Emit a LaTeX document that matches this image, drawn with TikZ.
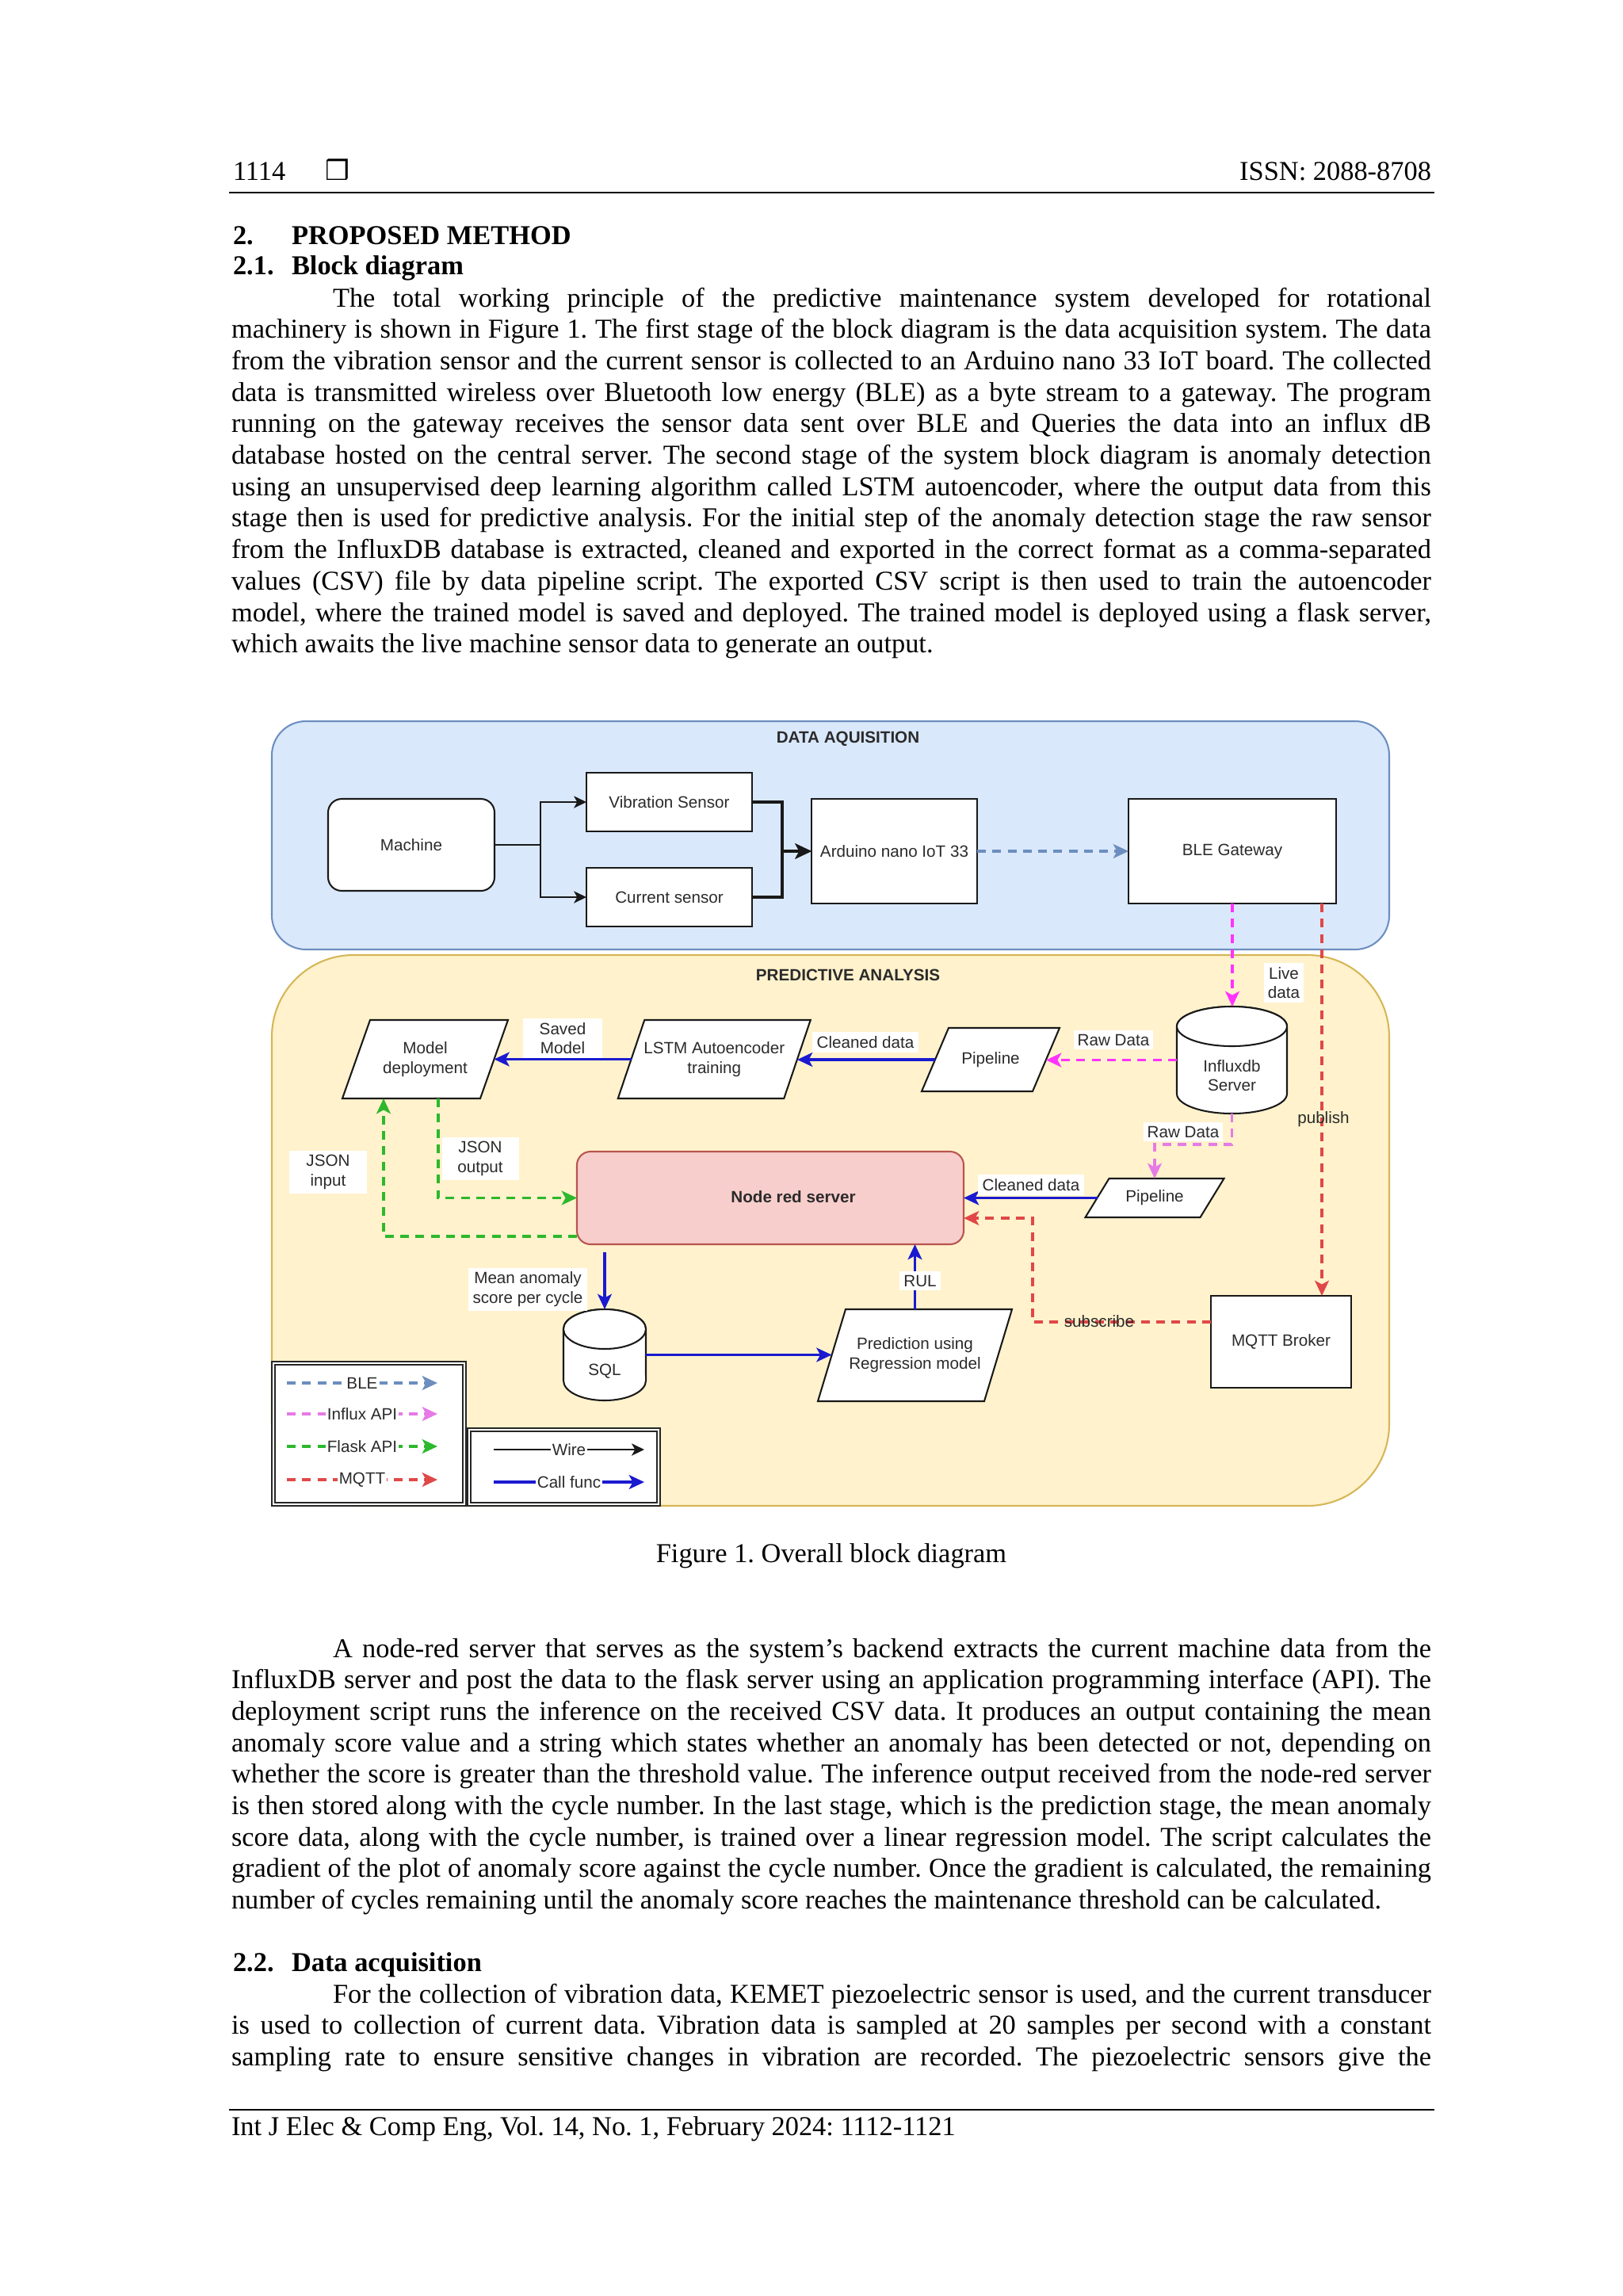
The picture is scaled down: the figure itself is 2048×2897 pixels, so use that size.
\documentclass[tikz,border=0pt]{standalone}
\usepackage{fontspec}
\setmainfont{Liberation Serif}
\newfontfamily\dsans{Liberation Sans}
\newfontfamily\dejavu{DejaVu Sans}
\usetikzlibrary{arrows.meta,calc}
\pgfdeclarelayer{regions}
\pgfdeclarelayer{shapes}
\pgfsetlayers{regions,shapes,main}
\definecolor{daqF}{HTML}{DAE8FC}
\definecolor{daqD}{HTML}{6C8EBF}
\definecolor{paF}{HTML}{FFF2CC}
\definecolor{paD}{HTML}{D6B656}
\definecolor{nrF}{HTML}{F8CECC}
\definecolor{nrD}{HTML}{B85450}
\definecolor{bleC}{HTML}{6C8EBF}
\definecolor{infC}{HTML}{FF33FF}
\definecolor{infC2}{HTML}{E67AE6}
\definecolor{flaskC}{HTML}{2DB82D}
\definecolor{mqttC}{HTML}{E04848}
\definecolor{callC}{HTML}{1A1AD0}
\definecolor{txtC}{HTML}{2B2B2B}
\newcommand*\pxl{*0.2907pt}
\newcommand\jl[1]{\makebox[440.1pt][s]{#1}}
\newcommand\jli[1]{\makebox[402.9pt][s]{#1}}
\newcommand\drawpara[2]{%
  \begin{pgfonlayer}{shapes}
  \draw[parashape] ([shift={(#2,0)}]#1.north west) -- ([shift={(#2,0)}]#1.north east)
     -- ([shift={(-#2,0)}]#1.south east) -- ([shift={(-#2,0)}]#1.south west) -- cycle;
  \end{pgfonlayer}}
\newcommand\drawcyl[2]{% name, x radius
  \begin{pgfonlayer}{shapes}
  \draw[parashape] ([shift={(0,25)}]#1.north west) -- ([shift={(0,-25)}]#1.south west)
     arc[start angle=180,end angle=360,x radius=#2,y radius=7.27pt]
     -- ([shift={(0,25)}]#1.north east)
     arc[start angle=0,end angle=180,x radius=#2,y radius=7.27pt] -- cycle;
  \draw[parashape] ([shift={(0,25)}]#1.north) ellipse [x radius=#2,y radius=7.27pt];
  \end{pgfonlayer}}
\begin{document}
\frenchspacing
\begin{tikzpicture}[x=0.2907pt,y=-0.2907pt,
  body/.style={font=\frenchspacing\fontsize{10}{11.5}\selectfont, anchor=base west, inner sep=0pt, outer sep=0pt},
  bodyb/.style={body, font=\bfseries\fontsize{10}{11.5}\selectfont},
  dtext/.style={font=\dsans\fontsize{6}{7.2}\selectfont, text=txtC, align=center, inner sep=0pt, outer sep=0pt},
  dbold/.style={dtext, font=\dsans\bfseries\fontsize{6}{7.2}\selectfont},
  box/.style={dtext, draw=black!90, fill=white, line width=0.6pt},
  hold/.style={dtext, draw=none},
  parashape/.style={draw=black!90, fill=white, line width=0.6pt},
  lbl/.style={dtext, fill=white, inner sep=1.5pt},
  region/.style={draw=#1D, fill=#1F, line width=0.6pt, inner sep=0pt, outer sep=0pt},
  legbox/.style={draw=black!85, double=white, double distance=0.7pt, line width=0.45pt, fill=white, inner sep=0pt, outer sep=0pt},
  wire/.style={draw=black!90, line width=0.6pt, -{Stealth[length=4.6pt,width=4.4pt,inset=1.2pt]}},
  wireT/.style={draw=black!90, line width=1pt, -{Stealth[length=6pt,width=5.6pt,inset=1.5pt]}},
  call/.style={draw=callC, line width=0.9pt, -{Stealth[length=5.6pt,width=5.2pt,inset=1.4pt]}},
  dashedge/.style={draw=#1, line width=0.9pt, dash pattern=on 3.2pt off 2.4pt, -{Stealth[length=5.6pt,width=5.2pt,inset=1.4pt]}},
]
\useasboundingbox (0,0) rectangle (2048,2897);
\begin{pgfonlayer}{regions}
\fill[white] (0,0) rectangle (2048,2897);
\node[region=daq, rounded corners=12.5pt, minimum width=1410\pxl, minimum height=288\pxl] (daq) at (1048,1054) {};
\node[region=pa, rounded corners=30pt, minimum width=1410\pxl, minimum height=695\pxl] (pa) at (1048,1552.5) {};
\end{pgfonlayer}

% ---------- page header ----------
\node[body] (pgnum) at (294,227) {1114};
\node[body, font=\dejavu\fontsize{10}{11.5}\selectfont] (pgbox) at (410,227) {❒};
\node[body, anchor=base east] (issn) at (1806,227) {ISSN: 2088-8708};
\draw[line width=0.8pt] (289,243) coordinate (hr1) -- (1810,243) coordinate (hr2);

\node[bodyb] (s2n) at (294,308) {2.};
\node[bodyb] (s2t) at (368,308) {PROPOSED METHOD};
\node[bodyb] (s21n) at (294,346) {2.1.};
\node[bodyb] (s21t) at (368,346) {Block diagram};

\node[body] (p1l1) at (420,387) {\jli{The total working principle of the predictive maintenance system developed for rotational}};
\node[body] (p1l2) at (292,426.7) {\jl{machinery is shown in Figure 1. The first stage of the block diagram is the data acquisition system. The data}};
\node[body] (p1l3) at (292,466.4) {\jl{from the vibration sensor and the current sensor is collected to an Arduino nano 33 IoT board. The collected}};
\node[body] (p1l4) at (292,506.1) {\jl{data is transmitted wireless over Bluetooth low energy (BLE) as a byte stream to a gateway. The program}};
\node[body] (p1l5) at (292,545.8) {\jl{running on the gateway receives the sensor data sent over BLE and Queries the data into an influx dB}};
\node[body] (p1l6) at (292,585.5) {\jl{database hosted on the central server. The second stage of the system block diagram is anomaly detection}};
\node[body] (p1l7) at (292,625.2) {\jl{using an unsupervised deep learning algorithm called LSTM autoencoder, where the output data from this}};
\node[body] (p1l8) at (292,664.9) {\jl{stage then is used for predictive analysis. For the initial step of the anomaly detection stage the raw sensor}};
\node[body] (p1l9) at (292,704.6) {\jl{from the InfluxDB database is extracted, cleaned and exported in the correct format as a comma-separated}};
\node[body] (p1l10) at (292,744.3) {\jl{values (CSV) file by data pipeline script. The exported CSV script is then used to train the autoencoder}};
\node[body] (p1l11) at (292,784.0) {\jl{model, where the trained model is saved and deployed. The trained model is deployed using a flask server,}};
\node[body] (p1l12) at (292,823.7) {which awaits the live machine sensor data to generate an output.};

% ---------- diagram: data acquisition ----------
\node[dbold] (daqt) at (1070,932) {DATA AQUISITION};
\node[box, rounded corners=5pt, minimum width=210\pxl, minimum height=116\pxl] (machine) at (519,1066) {Machine};
\node[box, minimum width=209\pxl, minimum height=74\pxl] (vib) at (844.5,1012) {Vibration Sensor};
\node[box, minimum width=209\pxl, minimum height=74\pxl] (cur) at (844.5,1132) {Current sensor};
\node[box, minimum width=209\pxl, minimum height=132\pxl] (ard) at (1128.5,1074) {Arduino nano IoT 33};
\node[box, minimum width=262\pxl, minimum height=132\pxl] (ble) at (1555,1074) {BLE Gateway};

% ---------- diagram: predictive analysis ----------
\node[dbold] (pat) at (1070,1230) {PREDICTIVE ANALYSIS};
\node[hold, minimum width=174\pxl, minimum height=99\pxl] (md) at (536.5,1336.5) {Model\\deployment};
\drawpara{md}{17.5}
\node[hold, minimum width=209.5\pxl, minimum height=99\pxl] (lstm) at (901.25,1336.5) {LSTM Autoencoder\\training};
\drawpara{lstm}{16.75}
\node[hold, minimum width=140\pxl, minimum height=80\pxl] (pipe1) at (1250,1337) {Pipeline};
\drawpara{pipe1}{17}
\node[hold, minimum width=139\pxl, minimum height=135\pxl] (influx) at (1554.5,1337.5) {};
\drawcyl{influx}{20.2pt}
\node[dtext] (influxt) at (1554.5,1357) {Influxdb\\Server};
\node[dtext, draw=nrD, fill=nrF, line width=0.6pt, rounded corners=5pt, minimum width=488\pxl, minimum height=117\pxl] (nodered) at (972,1511.5) {};
\node[dbold] (noderedt) at (1001,1510) {Node red server};
\node[hold, minimum width=145\pxl, minimum height=49\pxl] (pipe2) at (1457,1511.5) {Pipeline};
\drawpara{pipe2}{15}
\node[hold, minimum width=210\pxl, minimum height=116\pxl] (pred) at (1154.5,1710) {Prediction using\\Regression model};
\drawpara{pred}{17.5}
\node[hold, minimum width=104\pxl, minimum height=115\pxl] (sql) at (763,1709.5) {};
\drawcyl{sql}{15.12pt}
\node[dtext] (sqlt) at (763,1730) {SQL};
\node[box, minimum width=177\pxl, minimum height=116\pxl] (mqtt) at (1616.5,1693) {MQTT Broker};

% ---------- connectors ----------
\draw[wire] (machine.east) -- ++(58,0) |- (vib.west);
\draw[wire] (machine.east) -- ++(58,0) |- (cur.west);
\draw[wireT] (vib.east) -- ++(38,0) |- (ard.west);
\draw[wireT] (cur.east) -- ++(38,0) |- (ard.west);
\draw[dashedge=bleC] (ard.east) -- (ble.west);
\draw[dashedge=infC] (ble.south) -- (ble.south |- influx.north);
\coordinate (pubS) at ([shift={(113,0)}]ble.south);
\draw[dashedge=mqttC] (pubS) -- (pubS |- mqtt.north);
\draw[dashedge=infC] (influx.west) -- (influx.west -| pipe1.east);
\draw[call] (pipe1.west) -- (pipe1.west -| lstm.east);
\draw[call] (lstm.west) -- (md.east);
\draw[dashedge=infC2] (influx.south) -- ++(0,39) -| (pipe2.north);
\draw[call] (pipe2.west) -- (nodered.east);
\coordinate (subS) at ([shift={(0,-25)}]mqtt.west);
\coordinate (subE) at ([shift={(0,25.5)}]nodered.east);
\draw[dashedge=mqttC] (subS) -- ++(-225,0) |- (subE);
\draw[call] (pred.north) -- (pred.north |- nodered.south);
\coordinate (meanS) at ($(sql.north |- nodered.south)+(0,10)$);
\draw[call] (meanS) -- (sql.north);
\draw[call] (sql.east) -- (sql.east -| pred.west);
\draw[dashedge=flaskC] ([shift={(16.5,0)}]md.south) |- (nodered.west);
\draw[dashedge=flaskC] ([shift={(0,48.5)}]nodered.west) -| ([shift={(-52.5,0)}]md.south);

% ---------- connector labels ----------
\node[lbl] (lLive) at (1620,1240) {Live\\data};
\node[dtext] (lPub) at (1670,1412) {publish};
\node[lbl] (lRaw1) at (1405,1312) {Raw Data};
\node[lbl] (lClean1) at (1092,1315) {Cleaned data};
\node[lbl, minimum width=100\pxl] (lSaved) at (710,1310) {Saved\\Model};
\node[lbl] (lRaw2) at (1493,1428) {Raw Data};
\node[lbl] (lClean2) at (1301,1495) {Cleaned data};
\node[dtext] (lSub) at (1387,1667) {subscribe};
\node[lbl] (lRul) at (1161,1616) {RUL};
\node[lbl] (lMean) at (666,1627) {Mean anomaly\\score per cycle};
\node[lbl, minimum width=97\pxl, minimum height=48\pxl] (lJout) at (606,1462) {JSON\\output};
\node[lbl, minimum width=98\pxl, minimum height=45\pxl] (lJin) at (414,1479) {JSON\\input};

% ---------- legends ----------
\node[legbox, minimum width=241\pxl, minimum height=178\pxl] (leg1) at (465.5,1809) {};
\node[legbox, minimum width=239\pxl, minimum height=94\pxl] (leg2) at (711.5,1851) {};
\coordinate (lgA1) at (362,1745); \coordinate (lgA2) at (552,1745);
\coordinate (lgB1) at (362,1784); \coordinate (lgB2) at (552,1784);
\coordinate (lgC1) at (362,1825); \coordinate (lgC2) at (552,1825);
\coordinate (lgD1) at (362,1867); \coordinate (lgD2) at (552,1867);
\coordinate (lgE1) at (623,1829); \coordinate (lgE2) at (813,1829);
\coordinate (lgF1) at (623,1870); \coordinate (lgF2) at (813,1870);
\draw[dashedge=bleC] (lgA1) -- node[lbl, inner sep=0.6pt] (tBle) {BLE} (lgA2);
\draw[dashedge=infC2] (lgB1) -- node[lbl, inner sep=0.6pt] (tInf) {Influx API} (lgB2);
\draw[dashedge=flaskC] (lgC1) -- node[lbl, inner sep=0.6pt] (tFla) {Flask API} (lgC2);
\draw[dashedge=mqttC] (lgD1) -- node[lbl, inner sep=0.6pt] (tMq) {MQTT} (lgD2);
\draw[wire, line width=0.8pt] (lgE1) -- node[lbl, inner sep=0.6pt] (tWire) {Wire} (lgE2);
\draw[call] (lgF1) -- node[lbl, inner sep=0.6pt] (tCall) {Call func} (lgF2);

% ---------- caption and following text ----------
\node[body, anchor=base] (cap) at (1049,1971) {Figure 1. Overall block diagram};

\node[body] (p2l1) at (420,2091.0) {\jli{A node-red server that serves as the system’s backend extracts the current machine data from the}};
\node[body] (p2l2) at (292,2130.7) {\jl{InfluxDB server and post the data to the flask server using an application programming interface (API). The}};
\node[body] (p2l3) at (292,2170.4) {\jl{deployment script runs the inference on the received CSV data. It produces an output containing the mean}};
\node[body] (p2l4) at (292,2210.1) {\jl{anomaly score value and a string which states whether an anomaly has been detected or not, depending on}};
\node[body] (p2l5) at (292,2249.8) {\jl{whether the score is greater than the threshold value. The inference output received from the node-red server}};
\node[body] (p2l6) at (292,2289.5) {\jl{is then stored along with the cycle number. In the last stage, which is the prediction stage, the mean anomaly}};
\node[body] (p2l7) at (292,2329.2) {\jl{score data, along with the cycle number, is trained over a linear regression model. The script calculates the}};
\node[body] (p2l8) at (292,2368.9) {\jl{gradient of the plot of anomaly score against the cycle number. Once the gradient is calculated, the remaining}};
\node[body] (p2l9) at (292,2408.6) {number of cycles remaining until the anomaly score reaches the maintenance threshold can be calculated.};

\node[bodyb] (s22n) at (294,2487) {2.2.};
\node[bodyb] (s22t) at (368,2487) {Data acquisition};
\node[body] (p3l1) at (420,2527.0) {\jli{For the collection of vibration data, KEMET piezoelectric sensor is used, and the current transducer}};
\node[body] (p3l2) at (292,2566.7) {\jl{is used to collection of current data. Vibration data is sampled at 20 samples per second with a constant}};
\node[body] (p3l3) at (292,2606.4) {\jl{sampling rate to ensure sensitive changes in vibration are recorded. The piezoelectric sensors give the}};

% ---------- footer ----------
\draw[line width=0.8pt] (289,2662) coordinate (fr1) -- (1810,2662) coordinate (fr2);
\node[body] (foot) at (292,2694) {Int J Elec \& Comp Eng, Vol. 14, No. 1, February 2024: 1112-1121};
\end{tikzpicture}
\end{document}
